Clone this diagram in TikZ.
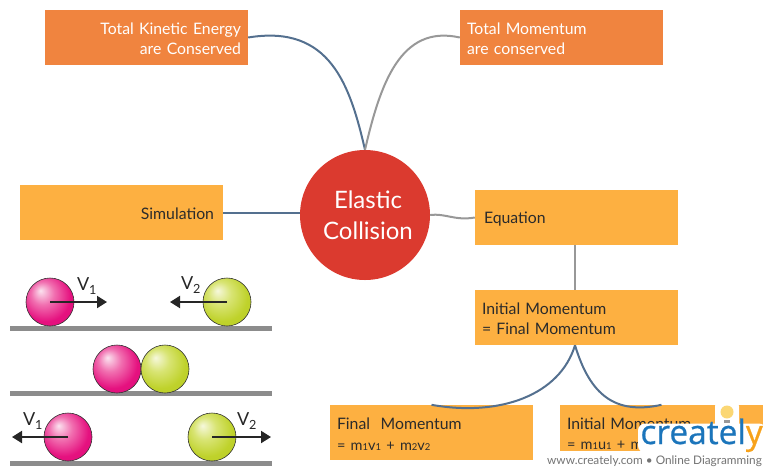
\documentclass[tikz,border=0pt]{standalone}
\usepackage{fontspec}
\setmainfont{Lato}
\newfontfamily\logofont{Open Sans}[FakeBold=0.7]
\usetikzlibrary{arrows.meta}
\definecolor{boxorange}{HTML}{F0843F}
\definecolor{boxyellow}{HTML}{FDB041}
\definecolor{hubred}{HTML}{DB3A2F}
\definecolor{linkblue}{HTML}{54708F}
\definecolor{linkgray}{HTML}{989898}
\definecolor{inktext}{HTML}{2B2B2B}
\definecolor{groundgray}{HTML}{8C8C8C}
\definecolor{logoblue}{HTML}{1B75BB}
\definecolor{logoorange}{HTML}{F7A21B}
\definecolor{bulbyellow}{HTML}{FBD774}
\definecolor{pinklight}{HTML}{FBE3EF}
\definecolor{pinkmid}{HTML}{F16FB0}
\definecolor{pinkfull}{HTML}{E5117F}
\definecolor{pinkedge}{HTML}{D60C74}
\definecolor{limelight}{HTML}{F6F8DC}
\definecolor{limemid}{HTML}{D8E473}
\definecolor{limefull}{HTML}{BFD22B}
\definecolor{limeedge}{HTML}{B3C523}
\pgfdeclareradialshading{pinkball}{\pgfpoint{-10bp}{12bp}}{color(0bp)=(pinklight); color(12bp)=(pinkmid); color(26bp)=(pinkfull); color(50bp)=(pinkedge)}
\pgfdeclareradialshading{limeball}{\pgfpoint{-10bp}{12bp}}{color(0bp)=(limelight); color(12bp)=(limemid); color(26bp)=(limefull); color(50bp)=(limeedge)}
\newcommand{\lowd}[1]{{\fontsize{9.5}{9.5}\selectfont #1}}
\tikzset{
  box/.style={rectangle, minimum width=203pt, minimum height=55pt, text width=189pt, inner sep=0pt, font=\fontsize{15.8}{20.5}\selectfont, execute at begin node={\rule{0pt}{14.5pt}}},
  warm/.style={box, fill=boxorange, text=white},
  pale/.style={box, fill=boxyellow, text=inktext},
  hub/.style={circle, fill=hubred, text=white, minimum size=130pt, inner sep=0pt, text width=96pt, align=center, font=\fontsize{24}{31}\selectfont},
  link/.style={line width=2pt, linkblue},
  graylink/.style={line width=2pt, linkgray},
  ball/.style={circle, minimum size=48pt, inner sep=0pt, draw=black!80, line width=0.6pt},
  pinkb/.style={ball, shading=pinkball},
  limeb/.style={ball, shading=limeball},
  ground/.style={rectangle, fill=groundgray, minimum width=262pt, minimum height=5pt, inner sep=0pt},
  vel/.style={line width=2pt, black!85, -{Triangle[length=10pt,width=12pt]}},
  vlabel/.style={inner sep=0pt, text=black!85, font=\fontsize{18}{18}\selectfont}
}
\begin{document}
\begin{tikzpicture}[x=1pt,y=-1pt]
\useasboundingbox (0,0) rectangle (775,475);
% boxes
\node[warm, align=right] (tke) at (146.5,37.5) {Total Kinetic Energy\\are Conserved};
\node[warm, align=left] (mom) at (561.5,37.5) {Total Momentum\\are conserved};
\node[pale, align=right, text width=185pt] (sim) at (121.5,212.5) {Simulation};
\node[hub] (hub) at (365,215) {\hspace*{6pt}Elastic\\\hspace*{6pt}Collision};
\node[pale, align=left, text width=185pt] (eq) at (576.5,217.5) {Equation};
\node[pale, align=left] (ini) at (576.5,317.5) {Initial Momentum\\= Final Momentum};
\node[pale, align=left] (fin) at (431.5,432.5) {Final~ Momentum\\{\fontsize{14.5}{18}\selectfont = m\lowd{1}v\lowd{1} + m\lowd{2}v\lowd{2}}};
\node[pale, align=left] (ini2) at (661.5,432.5) {Initial Momentum\\{\fontsize{14.5}{18}\selectfont = m\lowd{1}u\lowd{1} + m\lowd{2}u\lowd{2}}};
% connectors
\draw[link] (tke.east) .. controls (330,24) and (350,85) .. (hub.north);
\draw[graylink] (mom.west) .. controls (400,24) and (380,85) .. (hub.north);
\draw[link] (sim.east) -- (sim.east -| hub.west);
\draw[graylink] (hub.east) .. controls (445,213) and (455,221) .. (eq.west);
\draw[graylink] ([xshift=-1.5pt]eq.south) -- ([xshift=-1.5pt]ini.north);
\draw[link] ([xshift=-1.5pt]ini.south) .. controls (560,395) and (500,417) .. (fin.north);
\draw[link] ([xshift=-1.5pt]ini.south) .. controls (590,395) and (615,415) .. (ini2.north);
% first row
\node[ground] (g1) at (141,328) {};
\node[pinkb] (p1) at (50,302) {};
\node[limeb] (l1) at (227,302) {};
\coordinate (pa1) at (107,302);
\coordinate (la1) at (170,302);
\draw[vel] (p1.center) -- (pa1);
\draw[vel] (l1.center) -- (la1);
\node[vlabel] (v1a) at (87,286) {V\textsubscript{1}};
\node[vlabel] (v2a) at (191,285) {V\textsubscript{2}};
% second row
\node[ground] (g2) at (141,393) {};
\node[pinkb] (p2) at (117,369) {};
\node[limeb] (l2) at (165,369) {};
% third row
\node[ground] (g3) at (141,463) {};
\node[pinkb] (p3) at (68,437) {};
\node[limeb] (l3) at (212,437) {};
\coordinate (pa3) at (12,437);
\coordinate (la3) at (271,437);
\draw[vel] (p3.center) -- (pa3);
\draw[vel] (l3.center) -- (la3);
\node[vlabel] (v1c) at (33,421) {V\textsubscript{1}};
\node[vlabel] (v2c) at (247,421) {V\textsubscript{2}};
% watermark
\node[fill=white, minimum width=230pt, minimum height=19pt, inner sep=0pt, anchor=north west] (strip) at (545,451) {};
\node[fill=white, rounded corners=7pt, minimum width=128pt, minimum height=29pt, inner sep=0pt] (halo) at (702,438) {};
\node[fill=white, rounded corners=4pt, minimum width=24pt, minimum height=30pt, inner sep=0pt] (bulbhalo) at (727,417) {};
\node[circle, fill=bulbyellow, minimum size=13pt, inner sep=0pt] (bulb) at (727,412) {};
\node[rectangle, fill=black!40, minimum width=6pt, minimum height=3pt, inner sep=0pt] (bulbbase) at (727,421) {};
\node[inner sep=0pt, anchor=base east, font=\logofont\fontsize{33.5}{33.5}\selectfont] (logo) at (763,444) {\textcolor{logoblue}{createl}\textcolor{logoorange}{y}};
\node[inner sep=0pt, anchor=base east, text=black!55, font=\fontsize{11.8}{11.8}\selectfont] (url) at (762,464) {www.creately.com • Online Diagramming};
\end{tikzpicture}
\end{document}
